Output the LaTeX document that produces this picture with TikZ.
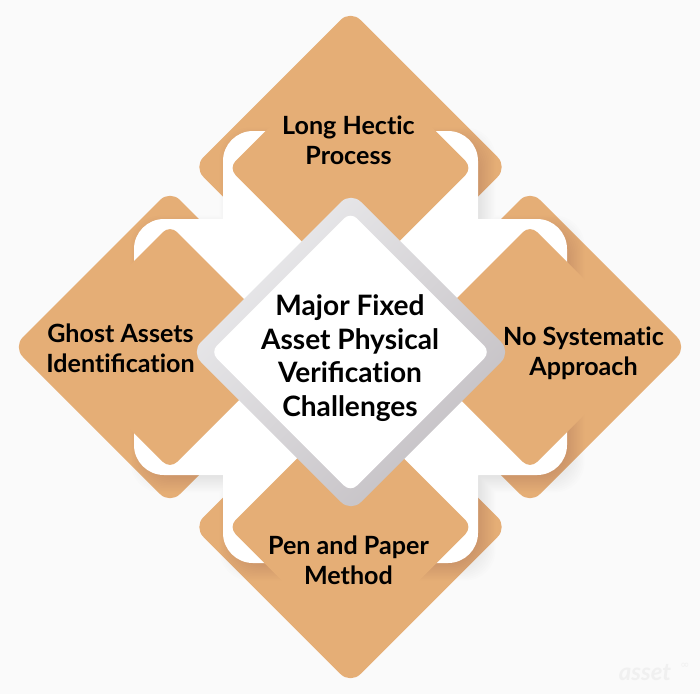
\documentclass[tikz,border=0pt]{standalone}
\usepackage{fontspec}
\setmainfont{Lato}[Ligatures=NoCommon]
\newfontfamily\markfont{DejaVu Sans}
\definecolor{pagebg}{HTML}{FAFAFA}
\definecolor{tan}{HTML}{E5AE76}
\definecolor{ringlight}{HTML}{EBEBED}
\definecolor{ringdark}{HTML}{C3BFC3}
\definecolor{wmark}{HTML}{F0F0F0}
\newcommand{\diapath}[3]{(#1,#2-#3) -- (#1+#3,#2) -- (#1,#2+#3) -- (#1-#3,#2) -- cycle}
\tikzset{
  outerdia/.style={fill=tan,rounded corners=14pt},
  innerdia/.style={fill=tan,rounded corners=10pt},
  sidelabel/.style={align=center,text=black,font=\fontsize{25.1}{30}\selectfont\bfseries,inner sep=0pt},
  hublabel/.style={align=center,text=black,font=\fontsize{28.1}{33.7}\selectfont\bfseries,inner sep=0pt},
}
\begin{document}
\begin{tikzpicture}[x=1pt,y=-1pt]
\useasboundingbox (0,0) rectangle (700,694);
\fill[pagebg] (0,0) rectangle (700,694);
% outer diamonds
\fill[outerdia] \diapath{350.5}{167}{157};
\fill[outerdia] \diapath{350.5}{527}{157};
\fill[outerdia] \diapath{170}{347}{157};
\fill[outerdia] \diapath{530}{347}{157};
% soft shadow of the white cross
\foreach \k in {-6,-4.5,...,11}{
  \fill[black,opacity=0.009,rounded corners=30pt]
    (223+7-\k,131+7-\k) rectangle (478+7+\k,563+7+\k)
    (134+7-\k,219+7-\k) rectangle (567+7+\k,475+7+\k);
}
% white cross
\fill[white,rounded corners=30pt]
  (223,131) rectangle (478,563)
  (134,219) rectangle (567,475);
% inner diamonds
\fill[innerdia] \diapath{350.5}{168}{122};
\fill[innerdia] \diapath{350.5}{527}{122};
\fill[innerdia] \diapath{170}{347}{122};
\fill[innerdia] \diapath{530}{347}{122};
% centre
\shade[top color=ringlight,bottom color=ringdark,shading angle=45,rounded corners=14pt] \diapath{351}{352}{160};
\fill[white,rounded corners=9pt] \diapath{350.5}{352}{140};
% labels
\node[sidelabel] (top) at (348.5,140) {Long Hectic\\Process};
\node[sidelabel] (bottom) at (348.5,560) {Pen and Paper\\Method};
\node[sidelabel] (left) at (120.5,348) {Ghost Assets\\Identiﬁcation};
\node[sidelabel] (right) at (583.5,353) {No Systematic\\Approach};
\node[hublabel] (hub) at (350,358) {Major Fixed\\Asset Physical\\Veriﬁcation\\Challenges};
\node[text=wmark,font=\fontsize{24}{24}\selectfont\bfseries\itshape,inner sep=0pt] (wm) at (645,673) {asset};
\node[text=wmark,font=\markfont\fontsize{11}{11}\selectfont,inner sep=0pt] (wminf) at (685,666) {∞};
\end{tikzpicture}
\end{document}
